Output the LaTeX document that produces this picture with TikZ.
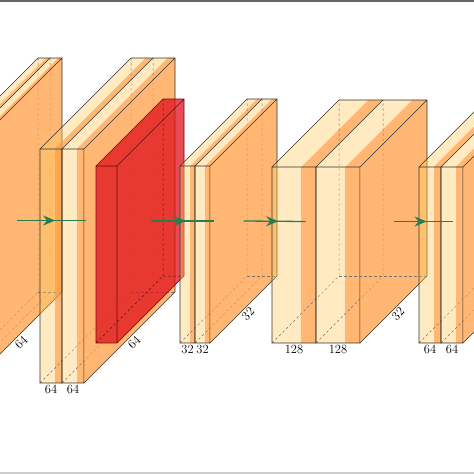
\documentclass[tikz,border=0pt]{standalone}
\usepackage{amsmath}
\usepackage{tikz}
\usetikzlibrary{arrows.meta,decorations.markings}

\definecolor{convfill}{HTML}{FFCC66}
\definecolor{relufill}{HTML}{FF9F45}
\definecolor{poolfill}{HTML}{E0101A}
\definecolor{edgegreen}{RGB}{40,125,80}

\tikzset{
  convface/.style={fill=convfill,fill opacity=0.4},
  reluface/.style={fill=relufill,fill opacity=0.75},
  poolface/.style={fill=poolfill,fill opacity=0.75},
  edge/.style={draw=black!80,line width=0.6pt},
  hidden/.style={draw=black!55,line width=0.5pt,dash pattern=on 2.5pt off 2.5pt},
  pooledge/.style={draw=poolfill!50!black,line width=0.6pt},
  poolhidden/.style={draw=poolfill!50!black,line width=0.5pt,dash pattern=on 2.5pt off 2.5pt},
  dimlabel/.style={font=\fontsize{12.5}{14}\selectfont,inner sep=2pt},
  connection/.style={draw=edgegreen,line width=1.3pt,postaction={decorate},
    decoration={markings,mark=at position 0.56 with {\arrow{Stealth[length=12pt,width=10pt]}}}}
}

% #1 name, #2 left, #3 right, #4 layers left/right/label, #5 top, #6 bottom, #7 depth, #8 depth label
\newcommand{\convblock}[8]{
  \foreach \xl/\xr/\lab in {#4} {
    \pgfmathsetmacro\xb{\xr-(\xr-\xl)/3}
    \path[convface] (\xl,#5) rectangle (\xb,#6);
    \path[reluface] (\xb,#5) rectangle (\xr,#6);
    \path[convface] (\xl,#5) -- ++(#7,-#7) -- (\xb+#7,#5-#7) -- (\xb,#5) -- cycle;
    \path[reluface] (\xb,#5) -- ++(#7,-#7) -- (\xr+#7,#5-#7) -- (\xr,#5) -- cycle;
    \draw[hidden] (\xl,#6) -- ++(#7,-#7) -- ++(0,#5-#6);
    \draw[edge] (\xl,#5) rectangle (\xr,#6) (\xl,#5) -- ++(#7,-#7);
    \node[dimlabel,below] at ({(\xl+\xr)/2},#6) {\lab};
  }
  \path[reluface] (#3,#5) -- ++(#7,-#7) -- ++(0,#6-#5) -- (#3,#6) -- cycle;
  \draw[hidden] (#2+#7,#6-#7) -- (#3+#7,#6-#7);
  \draw[edge] (#2+#7,#5-#7) -- (#3+#7,#5-#7) -- ++(0,#6-#5) -- (#3,#6)
    (#3,#5) -- ++(#7,-#7);
  \path (#3,#6) -- node[dimlabel,below,sloped] {#8} ++(#7,-#7);
  \coordinate (#1-west) at (#2+#7/2,{(#5+#6)/2-#7/2});
  \coordinate (#1-east) at (#3+#7/2,{(#5+#6)/2-#7/2});
}

% #1 name, #2 left, #3 right, #4 top, #5 bottom, #6 depth
\newcommand{\poolblock}[6]{
  \path[poolface] (#2,#4) rectangle (#3,#5);
  \path[poolface] (#2,#4) -- ++(#6,-#6) -- (#3+#6,#4-#6) -- (#3,#4) -- cycle;
  \path[poolface] (#3,#4) -- ++(#6,-#6) -- ++(0,#5-#4) -- (#3,#5) -- cycle;
  \draw[poolhidden] (#2,#5) -- ++(#6,-#6) -- ++(0,#4-#5) (#2+#6,#5-#6) -- (#3+#6,#5-#6);
  \draw[pooledge] (#2,#4) rectangle (#3,#5) (#2,#4) -- ++(#6,-#6) -- (#3+#6,#4-#6)
    -- ++(0,#5-#4) -- (#3,#5) (#3,#4) -- ++(#6,-#6);
  \coordinate (#1-west) at (#2+#6/2,{(#4+#5)/2-#6/2});
  \coordinate (#1-east) at (#3+#6/2,{(#4+#5)/2-#6/2});
}

\begin{document}
\begin{tikzpicture}[x=1pt,y=-1pt]
  \useasboundingbox (0,0) rectangle (474,474);
  \clip (0,0) rectangle (474,474);
  \fill[white] (0,0) rectangle (474,474);

  \convblock{conv1}{-53}{-29}{-53/-41/{},-41/-29/{}}{149}{383}{91}{64}
  \convblock{conv2}{40}{84}{40/62/64,62/84/64}{149}{383}{91}{64}
  \poolblock{pool1}{96}{117}{166}{343}{67}
  \convblock{conv3}{180}{210}{180/195/32,195/210/32}{166}{343}{67}{32}
  \convblock{conv4}{272}{360}{272/316/128,316/360/128}{167}{343}{67}{32}
  \convblock{conv5}{419}{463}{419/441/64,441/463/64}{167}{343}{67}{}

  \draw[connection] (conv1-east) -- (conv2-west);
  \draw[connection] (pool1-east) -- (conv3-west);
  \draw[connection] (conv3-east) -- (conv4-west);
  \draw[connection] (conv4-east) -- (conv5-west);

  \fill[black!60] (0,0) rectangle (474,2);
  \fill[black!20] (0,472) rectangle (474,474);
\end{tikzpicture}
\end{document}
